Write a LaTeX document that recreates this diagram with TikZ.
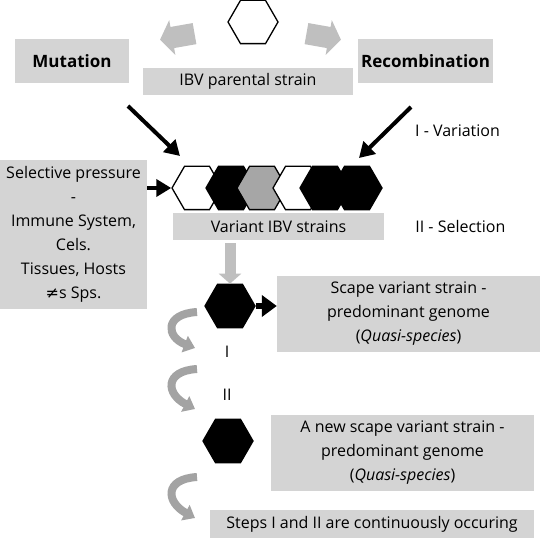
\documentclass[tikz,border=0pt]{standalone}
\usepackage{fontspec}
\setmainfont{Open Sans}
\newfontfamily\symfont{DejaVu Sans}
\usepackage{tikz}
\usetikzlibrary{positioning}
\usetikzlibrary{arrows.meta}
\usetikzlibrary{shapes.geometric}
\usetikzlibrary{shapes.arrows}
\definecolor{boxgray}{gray}{0.83}
\definecolor{arrowgray}{gray}{0.75}
\definecolor{hexgray}{gray}{0.65}
\definecolor{turngray}{gray}{0.64}
\tikzset{basic/.style={fill=boxgray,inner sep=0pt,font=\fontsize{16}{24}\selectfont,align=center}}
\tikzset{title/.style={basic,font=\fontsize{17}{20}\selectfont\bfseries}}
\tikzset{plain/.style={inner sep=0pt,font=\fontsize{16}{24}\selectfont}}
\tikzset{hex/.style={regular polygon,regular polygon sides=6,minimum size=50pt,inner sep=0pt,draw=black,line width=1.3pt}}
\tikzset{blockarrow/.style={single arrow,fill=arrowgray,minimum height=35pt,inner xsep=0pt,inner ysep=10.5pt,single arrow head extend=7pt,single arrow tip angle=110}}
\tikzset{push/.style={draw=black,line width=4pt,-{Triangle[length=15pt,width=17pt]}}}
\tikzset{down/.style={draw=arrowgray,line width=11pt,-{Triangle[length=10pt,width=22pt]}}}
\tikzset{turn/.style={draw=turngray,line width=8pt,-{Triangle[length=11pt,width=17pt]}}}

\begin{document}
\begin{tikzpicture}[x=1pt,y=-1pt]
        \useasboundingbox (0,0) rectangle (554,553);
        % parental strain and the two ways of variation
        \node[hex,fill=white] (parent) at (253,22) {};
        \node[blockarrow,rotate=190] (toleft) at (181,36) {};
        \node[blockarrow,rotate=-10] (toright) at (320,36) {};
        \node[title,minimum width=114pt,minimum height=44pt] (mut) at (72,61) {Mutation};
        \node[title,minimum width=135pt,minimum height=44pt] (rec) at (425.5,61) {Recombination};
        \node[basic,minimum width=210pt,minimum height=27pt] (ibv) at (248,81.5) {IBV parental strain};
        % variant strains
        \node[hex,fill=white] (h1) at (197,188) {};
        \node[hex,fill=black] (h2) at (231,188) {};
        \node[hex,fill=hexgray] (h3) at (262,188) {};
        \node[hex,fill=white] (h4) at (298,188) {};
        \node[hex,fill=black] (h5) at (325,188) {};
        \node[hex,fill=black] (h6) at (357,188) {};
        \coordinate (mfrom) at (128,106);
        \coordinate (mto) at (180,156);
            \path[push] (mfrom) -- (mto);
        \coordinate (rfrom) at (411,107);
        \coordinate (rto) at (359,158);
            \path[push] (rfrom) -- (rto);
        \node[plain,anchor=west] (var) at (415,131) {I - Variation};
        \node[basic,minimum width=147pt,minimum height=149pt] (press) at (73.5,234.5) {Selective pressure\\-\\Immune System,\\Cels.\\Tissues, Hosts\\{\symfont ≠}s Sps.};
            \path[push] (press.east |- h1.west) -- (h1.west);
        \node[basic,minimum width=211pt,minimum height=27pt] (variant) at (278.5,226.5) {Variant IBV strains};
        \node[plain,right=31pt of variant.east,anchor=west] (sel) {II - Selection};
        % selection of the scape strains
        \node[hex,fill=black] (ha) at (230,306) {};
            \path[down,shorten <=3pt] (variant.south -| ha) -- (ha.north);
        \node[basic,minimum width=263pt,minimum height=76pt] (scape) at (408.5,314) {Scape variant strain -\\predominant genome\\(\textit{Quasi-species})};
            \path[push,line width=6pt,-{Triangle[length=15pt,width=21pt]}] (ha.east) -- (ha.east -| scape.west);
        \node[plain] (one) at (227,352) {I};
        \node[plain] (two) at (227,395) {II};
        \node[hex,fill=black] (hb) at (228,441) {};
        \node[basic,minimum width=263pt,minimum height=76pt] (newscape) at (402.5,453) {A new scape variant strain -\\predominant genome\\(\textit{Quasi-species})};
        \node[basic,minimum width=324pt,minimum height=28pt] (steps) at (372,524) {Steps I and II are continuously occuring};
        % turning arrows
        \draw[turn] (197,312) .. controls (164,314) and (166,337) .. (195,348);
        \draw[turn] (197,369) .. controls (164,371) and (166,394) .. (195,409);
        \draw[turn] (197,477) .. controls (164,479) and (166,502) .. (195,518);
\end{tikzpicture}
\end{document}
